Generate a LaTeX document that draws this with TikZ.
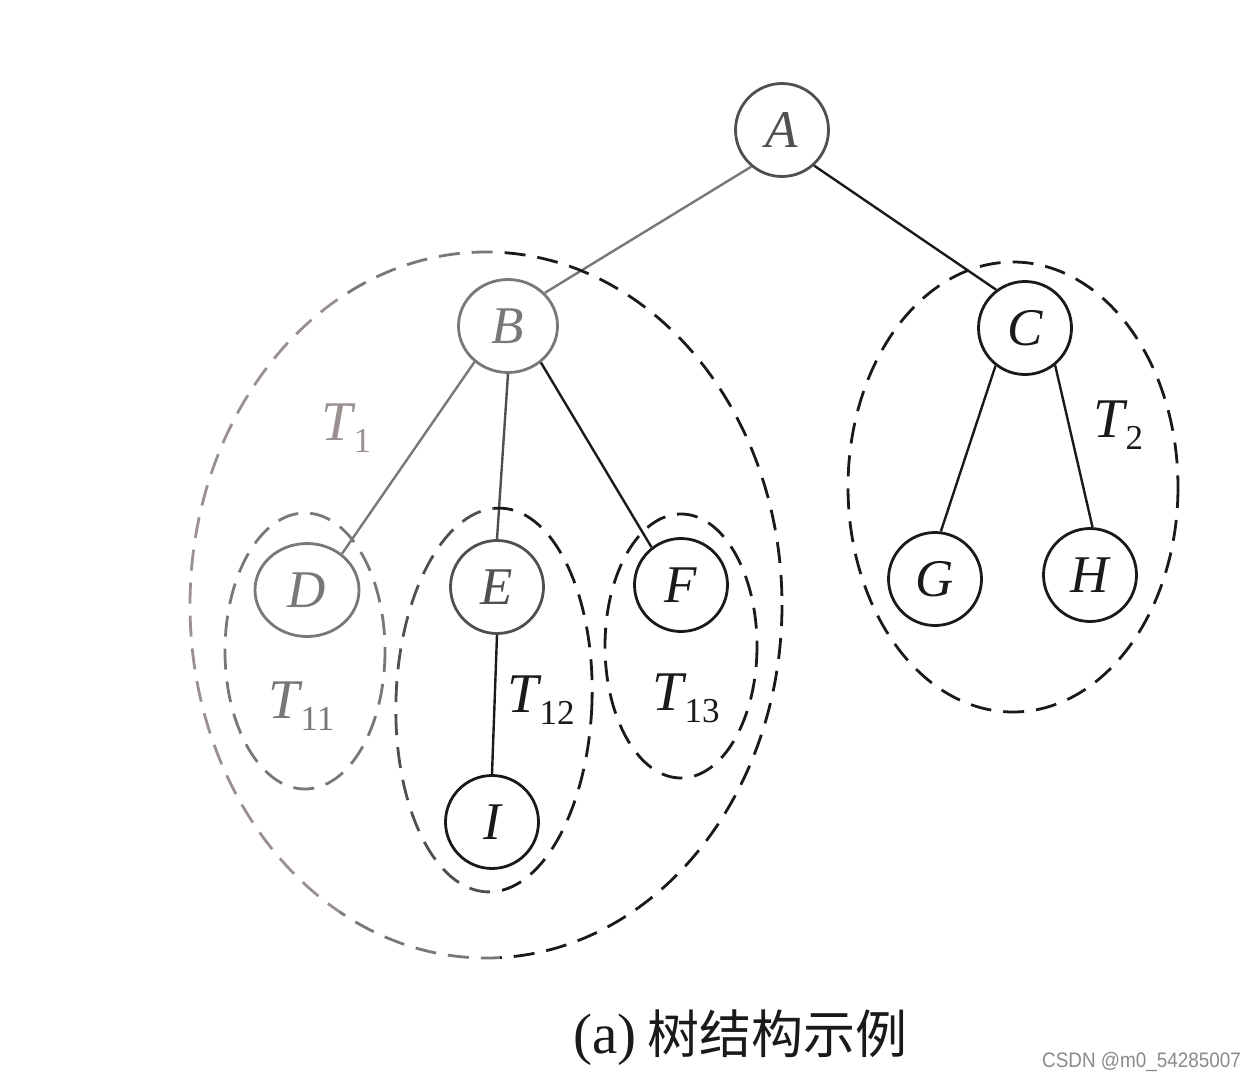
\documentclass[tikz,border=0pt]{standalone}
\usepackage{fontspec}
\setmainfont{Liberation Serif}
\newfontfamily\cjkfont{Noto Sans CJK SC}
\newfontfamily\wmfont[FakeStretch=0.9]{Liberation Sans}
\usetikzlibrary{shapes.geometric}
\definecolor{ink}{HTML}{1A1A1A}
\definecolor{mid}{HTML}{505050}
\definecolor{faded}{HTML}{787878}
\definecolor{pale}{HTML}{9A9090}
\definecolor{wmgray}{HTML}{8A8A8A}
\newcommand\Tlab[1]{\textit{T}\kern-2pt\raisebox{-12pt}{\fontsize{35}{35}\selectfont #1}}
\begin{document}
\begin{tikzpicture}[x=1pt,y=-1pt,
  nd/.style={ellipse, draw=#1, text=#1, line width=2.8pt, minimum width=93pt,
    minimum height=93pt, inner sep=0pt, font=\fontsize{53}{53}\selectfont\itshape},
  nd/.default=ink,
  conn/.style={draw=#1, line width=2.4pt},
  conn/.default=ink,
  dsh/.style={draw=#1, line width=2.8pt, dash pattern=on 21pt off 12pt},
  dsh/.default=ink,
  lbl/.style={anchor=base west, inner sep=0pt, text=#1, font=\fontsize{56}{56}\selectfont},
  lbl/.default=ink]
\useasboundingbox (0,0) rectangle (1253,1079);

% nodes
\node[nd=mid] (A) at (782,130) {A};
\node[nd=faded, minimum width=99pt] (B) at (508,326) {B};
\node[nd] (C) at (1025,328) {C};
\node[nd=faded, minimum width=104pt] (D) at (307,590) {D};
\node[nd=mid] (E) at (497,587) {E};
\node[nd] (F) at (681,585) {F};
\node[nd] (G) at (935,579) {G};
\node[nd] (H) at (1090,575) {H};
\node[nd] (I) at (492,822) {I};

% connectors
\draw[conn=faded] (A.230) -- (B.42);
\draw[conn] (A.312) -- (C.127);
\draw[conn=faded] (B.227) -- (D.46);
\draw[conn=mid] (B.270) -- (E.90);
\draw[conn] (B.312) -- (F.128);
\draw[conn] (C.232) -- (G.83);
\draw[conn] (C.309) -- (H.87);
\draw[conn] (E.270) -- (I.90);

% subtree T1 (faded on the left)
\begin{scope}
  \clip (0,0) rectangle (340,1079);
  \draw[dsh=pale] (486,605) ellipse [x radius=296, y radius=353];
\end{scope}
\begin{scope}
  \clip (340,0) rectangle (500,1079);
  \draw[dsh=faded] (486,605) ellipse [x radius=296, y radius=353];
\end{scope}
\begin{scope}
  \clip (500,0) rectangle (1253,1079);
  \draw[dsh] (486,605) ellipse [x radius=296, y radius=353];
\end{scope}

% subtree T2
\draw[dsh] (1013,487) ellipse [x radius=165, y radius=225];
% subtree T11
\draw[dsh=faded] (305,651) ellipse [x radius=80, y radius=138];
% subtree T12
\begin{scope}
  \clip (0,0) rectangle (494,1079);
  \draw[dsh=mid, rotate around={-2:(494,700)}] (494,700) ellipse [x radius=98, y radius=192];
\end{scope}
\begin{scope}
  \clip (494,0) rectangle (1253,1079);
  \draw[dsh, rotate around={-2:(494,700)}] (494,700) ellipse [x radius=98, y radius=192];
\end{scope}
% subtree T13
\draw[dsh] (681,646) ellipse [x radius=76, y radius=132];

% labels
\node[lbl=pale] (t1) at (321,440) {\Tlab{1}};
\node[lbl=faded] (t11) at (268,718) {\Tlab{11}};
\node[lbl] (t12) at (507,712) {\Tlab{12}};
\node[lbl] (t13) at (652,710) {\Tlab{13}};
\node[lbl] (t2) at (1093,437) {\Tlab{2}};

% caption
\node[anchor=base west, inner sep=0pt, text=ink] (cap) at (573,1053)
  {\fontsize{57}{57}\selectfont (a)\hspace{0.2em}{\cjkfont\fontsize{52}{52}\selectfont 树结构示例}};

% watermark
\node[anchor=base west, inner sep=0pt, text=wmgray] (wm) at (1042,1067)
  {\wmfont\fontsize{21}{21}\selectfont CSDN @m0\_54285007};
\end{tikzpicture}
\end{document}
